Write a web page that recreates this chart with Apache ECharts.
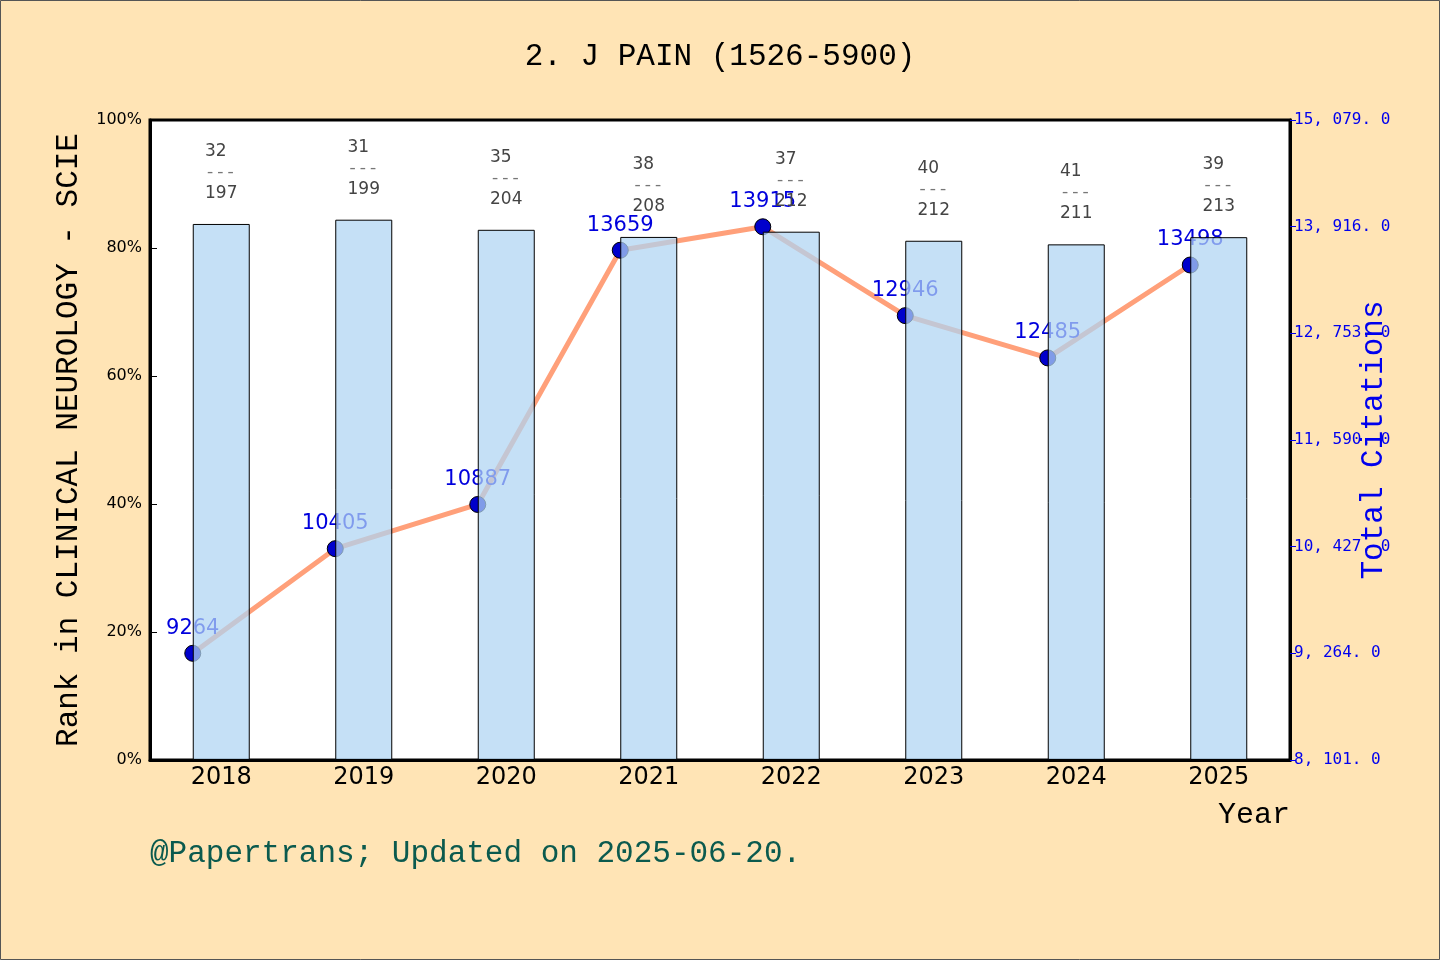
<!DOCTYPE html>
<html lang="en">
<head>
    <meta charset="UTF-8">
    <title>J PAIN rank and citations</title>
    <script src="https://cdn.jsdelivr.net/npm/echarts@6/dist/echarts.min.js"></script>
    <style>
        html, body, #main {
            width: 1440px;
            height: 960px;
            padding: 0;
            margin: 0;
        }
    </style>
</head>
<body>
<div id="main"></div>
<script>
    var years = ["2018", "2019", "2020", "2021", "2022", "2023", "2024", "2025"];
    var ranks = [32, 31, 35, 38, 37, 40, 41, 39];
    var totals = [197, 199, 204, 208, 212, 212, 211, 213];
    var citations = [9264, 10405, 10887, 13659, 13915, 12946, 12485, 13498];
    var citeTicks = [8101, 9264, 10427, 11590, 12753, 13916, 15079];

    var mono = "'Liberation Mono', 'DejaVu Sans Mono', monospace";
    var sans = "'DejaVu Sans', sans-serif";

    var myChart = echarts.init(document.getElementById("main"));

    // bar height = share of journals ranked below this one
    var barData = years.map(function (y, i) {
        return {
            value: 1 - ranks[i] / totals[i],
            rank: ranks[i],
            total: totals[i]
        };
    });

    // line sits on the left edge of each bar
    var lineData = citations.map(function (v, i) {
        return [i - 0.2, v];
    });

    myChart.setOption({
        backgroundColor: "#FFE4B5",
        title: {
            text: "2. J PAIN (1526-5900)",
            left: "center",
            top: 36,
            textStyle: {
                fontFamily: mono,
                fontSize: 31,
                fontWeight: "normal",
                color: "#000"
            }
        },
        grid: {
            left: 150,
            right: 150,
            top: 120,
            bottom: 200,
            show: true,
            backgroundColor: "#fff",
            borderColor: "#000",
            borderWidth: 3
        },
        xAxis: [{
            type: "category",
            data: years,
            axisLine: {onZero: false, lineStyle: {color: "#000", width: 3}},
            axisTick: {inside: true, length: 6, lineStyle: {color: "#000"}},
            axisLabel: {fontFamily: sans, fontSize: 24, color: "#000", margin: 6}
        }, {
            type: "value",
            min: -0.5,
            max: 7.5,
            show: false
        }],
        yAxis: [{
            type: "value",
            min: 0,
            max: 1,
            interval: 0.2,
            position: "left",
            name: "Rank in CLINICAL NEUROLOGY - SCIE",
            nameLocation: "middle",
            nameRotate: 90,
            nameGap: 66,
            nameMoveOverlap: false,
            nameTextStyle: {fontFamily: mono, fontSize: 31, color: "#000"},
            axisLine: {show: true, onZero: false, lineStyle: {color: "#000", width: 3}},
            axisTick: {show: true, inside: true, length: 7, lineStyle: {color: "#000"}},
            splitLine: {show: false},
            axisLabel: {
                fontFamily: sans,
                fontSize: 16,
                color: "#000",
                margin: 8,
                formatter: function (v) {
                    return Math.round(v * 100) + "%";
                }
            }
        }, {
            type: "value",
            min: citeTicks[0],
            max: citeTicks[citeTicks.length - 1],
            interval: citeTicks[1] - citeTicks[0],
            position: "right",
            name: "Total Citations",
            nameLocation: "middle",
            nameRotate: 90,
            nameGap: 68,
            nameMoveOverlap: false,
            nameTextStyle: {fontFamily: mono, fontSize: 31, color: "#0000ee"},
            axisLine: {show: true, onZero: false, lineStyle: {color: "#000", width: 3}},
            axisTick: {show: true, length: 6, lineStyle: {color: "#0000ee"}},
            splitLine: {show: false},
            axisLabel: {
                fontFamily: "'DejaVu Sans Mono', monospace",
                fontSize: 16,
                color: "#0000ee",
                margin: 4,
                formatter: function (v) {
                    var s = Math.round(v).toString();
                    var head = s.slice(0, s.length - 3);
                    return head + ", " + s.slice(-3) + ". 0";
                }
            }
        }],
        series: [{
            type: "line",
            xAxisIndex: 1,
            yAxisIndex: 1,
            z: 2,
            data: lineData,
            symbol: "circle",
            symbolSize: 16,
            itemStyle: {color: "#0000cc", borderColor: "#000", borderWidth: 1},
            lineStyle: {color: "#FFA07A", width: 5},
            label: {
                show: true,
                position: "top",
                distance: 6,
                fontFamily: sans,
                fontSize: 21,
                color: "#0000dd",
                formatter: function (p) {
                    return p.value[1];
                }
            }
        }, {
            type: "bar",
            xAxisIndex: 0,
            yAxisIndex: 0,
            z: 3,
            barWidth: "40%",
            data: barData,
            itemStyle: {
                color: "rgba(175,212,242,0.73)",
                borderColor: "#000",
                borderWidth: 1
            },
            label: {
                show: true,
                position: "top",
                distance: 20,
                formatter: function (p) {
                    return "{n|" + p.data.rank + "}\n{d|---}\n{n|" + p.data.total + "}";
                },
                rich: {
                    n: {fontFamily: sans, fontSize: 17, color: "#444", align: "left", lineHeight: 21},
                    d: {fontFamily: mono, fontSize: 17, color: "#777", align: "left", lineHeight: 21}
                }
            }
        }],
        graphic: [{
            type: "text",
            right: 150,
            top: 800,
            style: {text: "Year", fontFamily: mono, fontSize: 30, fill: "#000"}
        }, {
            type: "text",
            left: 150,
            top: 838,
            style: {
                text: "@Papertrans; Updated on 2025-06-20.",
                fontFamily: mono,
                fontSize: 31,
                fill: "#0B5A4E"
            }
        }, {
            type: "rect",
            shape: {x: 0.5, y: 0.5, width: 1439, height: 959},
            style: {fill: "none", stroke: "#555", lineWidth: 1}
        }]
    });
</script>
</body>
</html>
